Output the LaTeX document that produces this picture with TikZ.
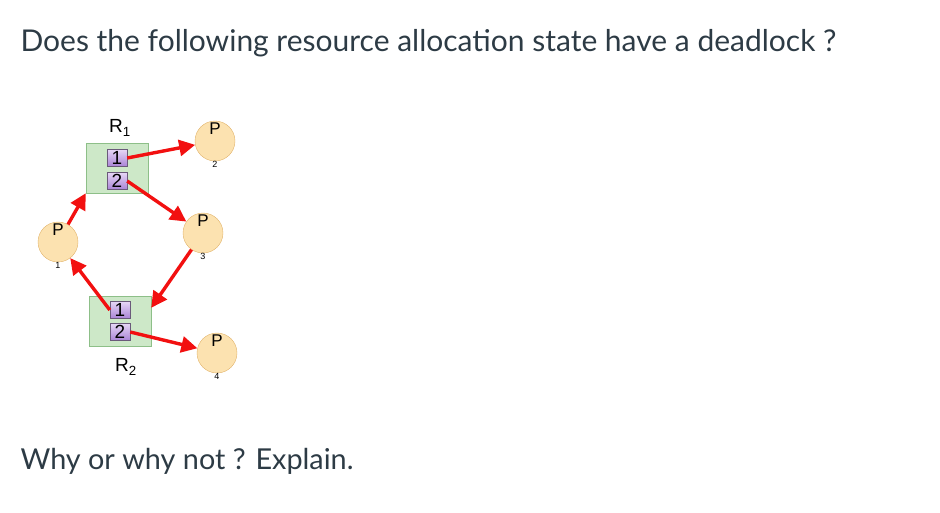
\documentclass[tikz,border=0pt]{standalone}
\usepackage{fontspec}
\setmainfont{Lato}
\newfontfamily\diagfont{Liberation Sans}
\usetikzlibrary{arrows.meta}
\definecolor{txtgray}{HTML}{2D3B45}
\definecolor{boxfill}{HTML}{CDE8C8}
\definecolor{boxline}{HTML}{8DBF88}
\definecolor{instline}{HTML}{6A5A7A}
\definecolor{instlight}{HTML}{E6D6F6}
\definecolor{instdark}{HTML}{A983D6}
\definecolor{procfill}{HTML}{FCE2B0}
\definecolor{procline}{HTML}{E2B46C}
\definecolor{edgered}{HTML}{F21010}
\begin{document}
\begin{tikzpicture}[x=1pt,y=-1pt,
  resbox/.style={draw=boxline,fill=boxfill,minimum width=62pt,minimum height=50pt,inner sep=0pt},
  inst/.style={draw=instline,top color=instlight,bottom color=instdark,minimum width=20pt,minimum height=17pt,inner sep=0pt,font=\diagfont\fontsize{19}{19}\selectfont},
  proc/.style={circle,draw=procline,fill=procfill,minimum size=40pt,inner sep=0pt},
  lbl/.style={font=\diagfont\fontsize{17}{17}\selectfont},
  sub/.style={font=\diagfont\fontsize{9}{9}\selectfont},
  edge/.style={draw=edgered,line width=3.4pt,-{Triangle[length=16pt,width=16pt]}}]
 \useasboundingbox (0,0) rectangle (940,512);
 \node[anchor=base west,text=txtgray,font=\fontsize{30}{30}\selectfont] (title) at (17,51) {Does the following resource allocation state have a deadlock ?};
 \node[anchor=base west,text=txtgray,font=\fontsize{28.8}{28.8}\selectfont] (question) at (17,469) {Why or why not ? Explain.};
 % resources
 \node[resbox] (r1) at (117,168) {}; \node[resbox] (r2) at (120,321) {};
 \node[inst] (r1a) at (117,158) {1}; \node[inst] (r1b) at (117,181) {2};
 \node[inst] (r2a) at (120,310) {1}; \node[inst] (r2b) at (120,332) {2};
 \node[lbl,font=\diagfont\fontsize{19}{19}\selectfont] (r1lbl) at (120,128) {R\textsubscript{1}};
 \node[lbl,font=\diagfont\fontsize{19}{19}\selectfont] (r2lbl) at (126,367) {R\textsubscript{2}};
 % processes
 \foreach \n/\x/\y in {1/58/242, 2/215/141, 3/203/233, 4/217/353} {
  \node[proc] (p\n) at (\x,\y) {};
  \node[lbl] (p\n lbl) at (\x,\y-12) {P};
  \node[sub] (p\n sub) at (\x,\y+23) {\n};
 }
 % edges
 \draw[edge] (r1a.east) -- (p2);
 \draw[edge] (r1b.east) -- (p3);
 \draw[edge] (p1) -- (r1.south west);
 \draw[edge] (p3) -- ([yshift=-12pt]r2.north east);
 \draw[edge] (r2a.west) -- (p1);
 \draw[edge] (r2b.east) -- (p4);
\end{tikzpicture}
\end{document}
